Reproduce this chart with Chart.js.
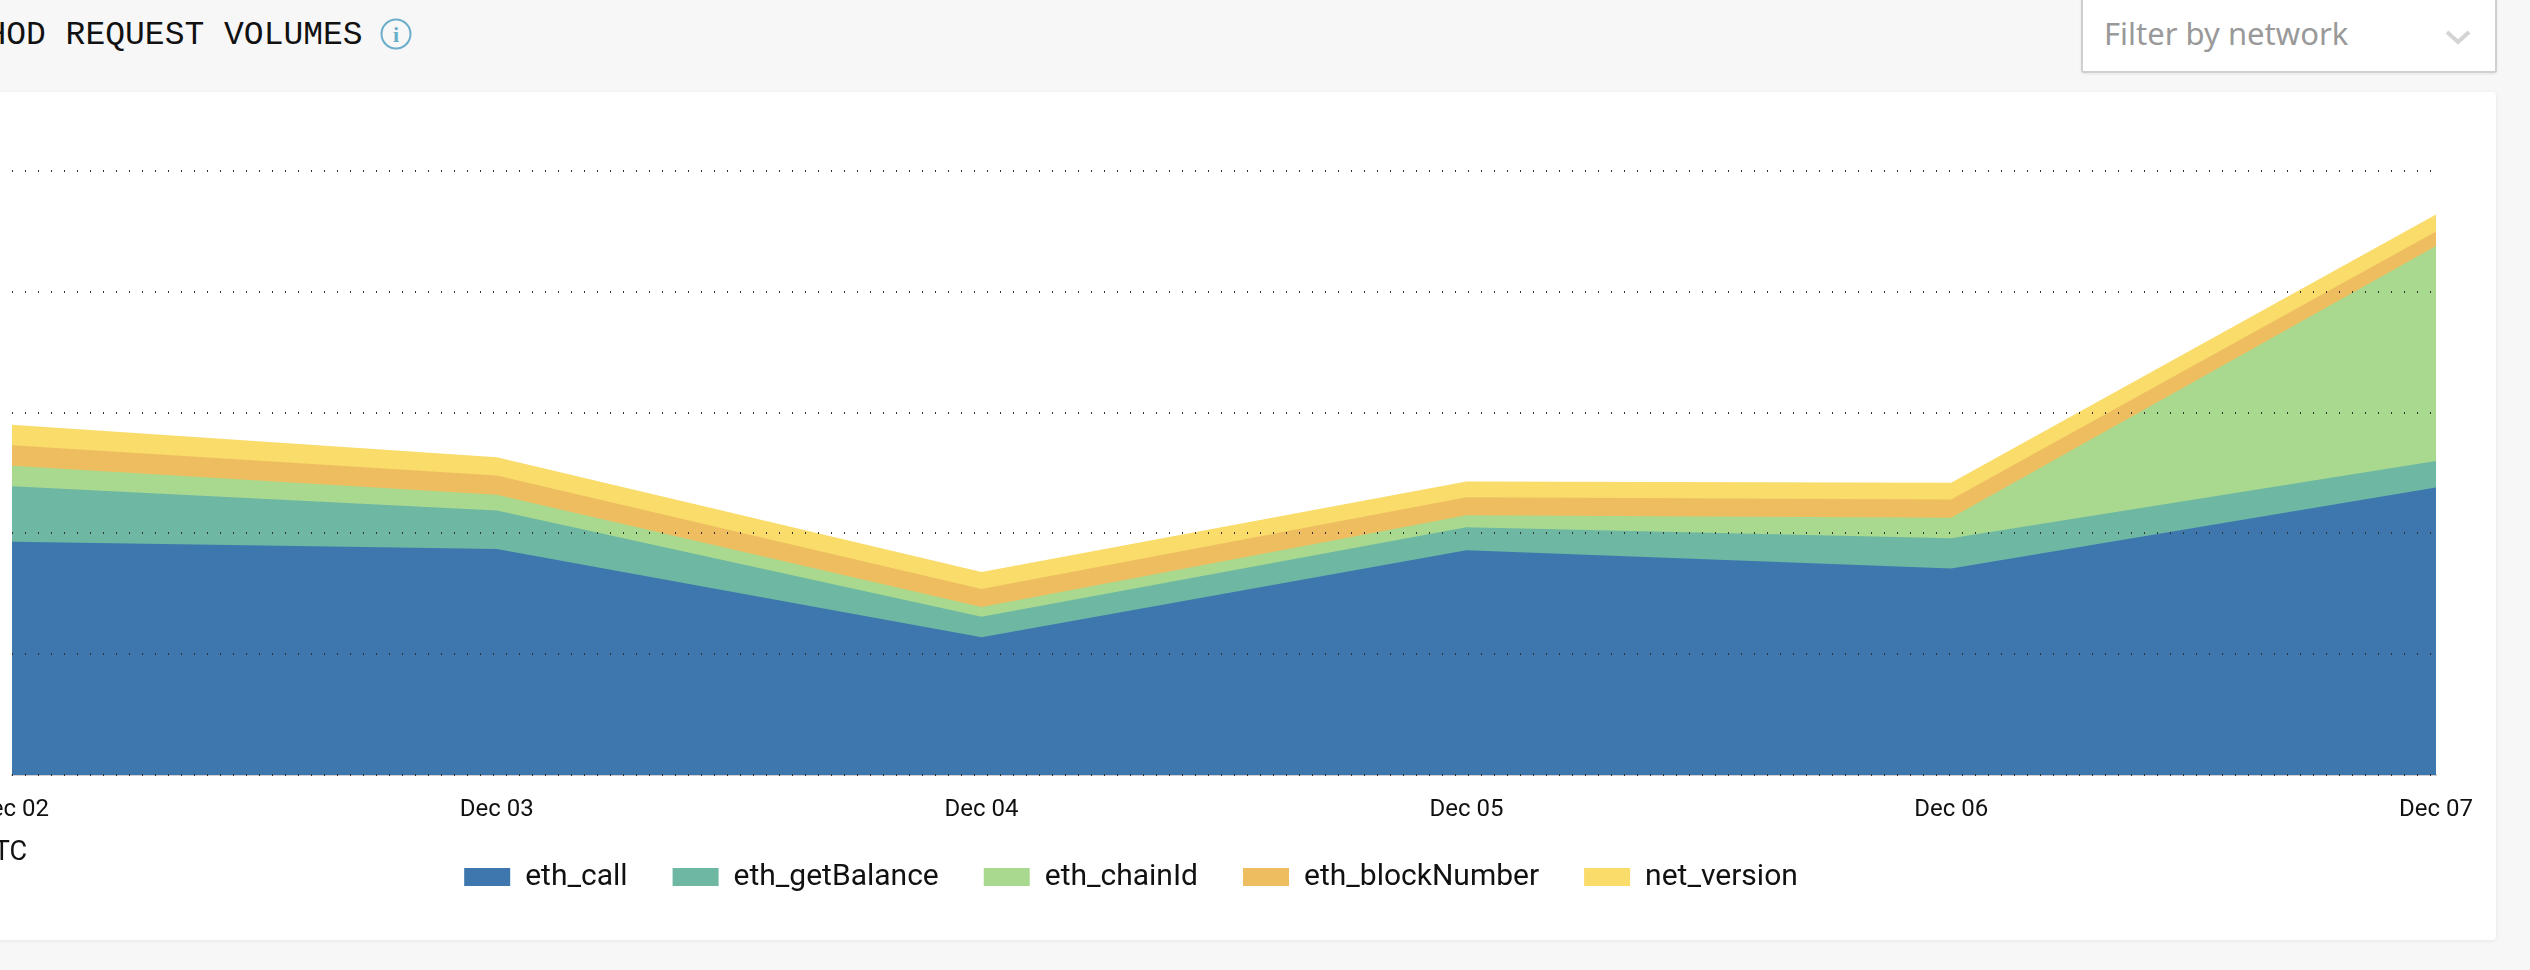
<!DOCTYPE html>
<html>
<head>
<meta charset="utf-8">
<title>Method request volumes</title>
<script src="https://cdn.jsdelivr.net/npm/chart.js@4"></script>
<style>
  html, body { margin: 0; height: 100%; background: #f7f7f7; overflow: hidden; }
  body { position: relative; width: 2530px; height: 970px; font-family: Roboto, sans-serif; }
  #heading {
    position: absolute; left: -73px; top: 16px; white-space: nowrap;
    font: 33px/40px "Liberation Mono", monospace; color: #111;
  }
  #info { position: absolute; left: 380px; top: 18px; }
  #filter {
    position: absolute; left: 2081px; top: -4px; width: 412px; height: 73px;
    background: #fff; border: 2px solid #d0d0d0; border-radius: 3px;
    box-shadow: 0 1px 3px rgba(0,0,0,0.08);
  }
  #filter span {
    position: absolute; left: 21px; top: 13px; font: 31px/44px "Noto Sans", sans-serif; color: #999;
  }
  #filter svg { position: absolute; left: 362px; top: 31px; }
  #card {
    position: absolute; left: -20px; top: 92px; width: 2516px; height: 848px;
    background: #fff; border-radius: 4px; box-shadow: 0 1px 4px rgba(0,0,0,0.07);
  }
  #wrap { position: absolute; left: -228px; top: 92px; }
  #tz { position: absolute; right: 2503px; top: 836px; font: 27px/30px Roboto, sans-serif; color: #111; }
</style>
</head>
<body>
<div id="heading">METHOD REQUEST VOLUMES</div>
<svg id="info" width="32" height="32" viewBox="0 0 32 32">
  <circle cx="16" cy="16" r="14.5" fill="none" stroke="#6aaec9" stroke-width="2"/>
  <text x="16" y="24" text-anchor="middle" font-family="Liberation Serif, serif" font-weight="bold" font-size="22" fill="#6aaec9">i</text>
</svg>
<div id="filter">
  <span>Filter by network</span>
  <svg width="26" height="16" viewBox="0 0 26 16"><path d="M2 3 L13 13 L24 3" fill="none" stroke="#d4d4d4" stroke-width="4"/></svg>
</div>
<div id="card"></div>
<div id="wrap"><canvas id="methodChart" width="2718" height="848"></canvas></div>
<div id="tz">UTC</div>

<script>
const days = ["Dec 02", "Dec 03", "Dec 04", "Dec 05", "Dec 06", "Dec 07"];
const ethCall = [1.93, 1.87, 1.14, 1.86, 1.71, 2.38];
const ethGetBalance = [0.46, 0.32, 0.17, 0.19, 0.25, 0.22];
const ethChainId = [0.17, 0.13, 0.08, 0.1, 0.17, 1.78];
const ethBlockNumber = [0.17, 0.16, 0.15, 0.15, 0.15, 0.12];
const netVersion = [0.17, 0.15, 0.14, 0.13, 0.14, 0.14];

const area = (label, data, color) => ({
  label,
  data,
  backgroundColor: color,
  borderWidth: 0,
  pointRadius: 0,
  fill: "origin",
  tension: 0,
});

new Chart(document.getElementById("methodChart").getContext("2d"), {
  type: "line",
  data: {
    labels: days,
    datasets: [
      area("eth_call", ethCall, "#3d77ad"),
      area("eth_getBalance", ethGetBalance, "#6db7a3"),
      area("eth_chainId", ethChainId, "#a9d98f"),
      area("eth_blockNumber", ethBlockNumber, "#eebd60"),
      area("net_version", netVersion, "#f9dc6a"),
    ],
  },
  options: {
    responsive: false,
    animation: false,
    devicePixelRatio: 1,
    layout: { padding: { left: 54, right: 54, top: 79, bottom: 38 } },
    plugins: {
      tooltip: { enabled: false },
      legend: {
        position: "bottom",
        labels: {
          boxWidth: 46,
          boxHeight: 18,
          padding: 45,
          color: "#111",
          font: { family: "Roboto", size: 30 },
        },
      },
    },
    scales: {
      x: {
        offset: false,
        afterFit: (scale) => { scale.height = 42; },
        border: { color: "rgba(0,0,0,0.18)", width: 2 },
        grid: { display: false, tickLength: 21 },
        ticks: {
          padding: 0,
          maxRotation: 0,
          autoSkip: false,
          color: "#111",
          font: { family: "Roboto", size: 24 },
        },
      },
      y: {
        stacked: true,
        min: 0,
        max: 5,
        // the value labels sit left of the visible page, so only their width is kept
        afterFit: (scale) => { scale.width = 186; },
        grid: { z: 1, color: "#333", lineWidth: 2, drawTicks: false },
        border: { display: false, dash: [1, 12] },
        ticks: { display: false, stepSize: 1 },
      },
    },
  },
});
</script>
</body>
</html>
